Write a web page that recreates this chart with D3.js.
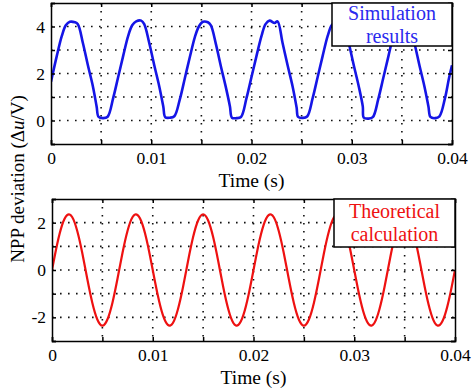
<!DOCTYPE html>
<html><head><meta charset="utf-8">
<script src="https://cdn.jsdelivr.net/npm/d3@7"></script>
<style>
body{margin:0;background:#fff}
svg{display:block}
svg text{font-family:'Liberation Serif','Times New Roman',Times,'DejaVu Serif',serif}
</style>
</head><body>
<svg id="chart" width="474" height="391" font-family="Liberation Serif, Times New Roman, serif"></svg>
<script>
// ---------- data ----------
const simTime = [
  0, 0.00058, 0.00108, 0.00148, 0.00188, 0.00238, 0.00268, 0.00318, 0.00368, 0.00418, 0.00455,
  0.00475, 0.0052, 0.00565, 0.0062, 0.0067, 0.0072, 0.0077, 0.0081, 0.0085, 0.009, 0.0093, 0.0098, 0.0103, 0.0108, 0.0112,
  0.0114, 0.01185, 0.0123, 0.01285, 0.01335, 0.01385, 0.01435, 0.01475, 0.01515, 0.01565, 0.01595, 0.01645, 0.01695, 0.01745, 0.01785,
  0.01805, 0.0185, 0.01895, 0.0195, 0.02, 0.0205, 0.021, 0.0214, 0.0218, 0.0223, 0.0226, 0.0231, 0.0236, 0.0241, 0.0245,
  0.02465, 0.0251, 0.02555, 0.0261, 0.0266, 0.0271, 0.0276, 0.028, 0.0284, 0.0289, 0.0292, 0.0297, 0.0302, 0.0307, 0.0311,
  0.0312, 0.03165, 0.0321, 0.03265, 0.03315, 0.03365, 0.03415, 0.03455, 0.03495, 0.03545, 0.03575, 0.03625, 0.03675, 0.03725, 0.03765,
  0.03785, 0.0383, 0.03875, 0.0393, 0.0397, 0.04
];
const simValue = [
  1.65, 2.75, 3.6, 4.05, 4.2, 4.18, 4.1, 3.3, 2.35, 1.45, 0.6,
  0.15, 0.1, 0.16, 0.95, 1.85, 2.75, 3.6, 4.05, 4.22, 4.25, 4.1, 3.3, 2.35, 1.45, 0.6,
  0.14, 0.12, 0.18, 0.9, 1.8, 2.7, 3.55, 4.0, 4.2, 4.18, 4.05, 3.25, 2.3, 1.4, 0.6,
  0.12, 0.1, 0.15, 0.95, 1.85, 2.75, 3.6, 4.1, 4.25, 4.15, 4.22, 3.3, 2.35, 1.45, 0.55,
  0.15, 0.11, 0.17, 0.95, 1.85, 2.75, 3.6, 4.05, 4.2, 4.2, 4.1, 3.3, 2.35, 1.45, 0.6,
  0.12, 0.08, 0.14, 0.92, 1.82, 2.72, 3.6, 4.05, 4.2, 4.22, 4.1, 3.3, 2.35, 1.45, 0.6,
  0.15, 0.1, 0.18, 0.95, 1.8, 2.35
];
const theoryTime = [
  0, 0.0005, 0.001, 0.0015, 0.002, 0.0025, 0.003, 0.0035, 0.004, 0.0045,
  0.005, 0.0055, 0.006, 0.0065, 0.007, 0.0075, 0.008, 0.0085, 0.009, 0.0095,
  0.01, 0.0105, 0.011, 0.0115, 0.012, 0.0125, 0.013, 0.0135, 0.014, 0.0145,
  0.015, 0.0155, 0.016, 0.0165, 0.017, 0.0175, 0.018, 0.0185, 0.019, 0.0195,
  0.02, 0.0205, 0.021, 0.0215, 0.022, 0.0225, 0.023, 0.0235, 0.024, 0.0245,
  0.025, 0.0255, 0.026, 0.0265, 0.027, 0.0275, 0.028, 0.0285, 0.029, 0.0295,
  0.03, 0.0305, 0.031, 0.0315, 0.032, 0.0325, 0.033, 0.0335, 0.034, 0.0345,
  0.035, 0.0355, 0.036, 0.0365, 0.037, 0.0375, 0.038, 0.0385, 0.039, 0.0395,
  0.04
];
const theoryValue = [
  0, 1.07, 1.90, 2.32, 2.24, 1.66, 0.73, -0.37, -1.38, -2.09,
  -2.35, -2.09, -1.38, -0.37, 0.73, 1.66, 2.24, 2.32, 1.90, 1.07,
  0, -1.07, -1.90, -2.32, -2.24, -1.66, -0.73, 0.37, 1.38, 2.09,
  2.35, 2.09, 1.38, 0.37, -0.73, -1.66, -2.24, -2.32, -1.90, -1.07,
  0, 1.07, 1.90, 2.32, 2.24, 1.66, 0.73, -0.37, -1.38, -2.09,
  -2.35, -2.09, -1.38, -0.37, 0.73, 1.66, 2.24, 2.32, 1.90, 1.07,
  0, -1.07, -1.90, -2.32, -2.24, -1.66, -0.73, 0.37, 1.38, 2.09,
  2.35, 2.09, 1.38, 0.37, -0.73, -1.66, -2.24, -2.32, -1.90, -1.07,
  0
];
const xGridTicks = [0, 0.005, 0.01, 0.015, 0.02, 0.025, 0.03, 0.035, 0.04];
const xLabelTicks = [0, 0.01, 0.02, 0.03, 0.04];
const xTickLabels = ["0", "0.01", "0.02", "0.03", "0.04"];
const simYDomain = [-1, 5];
const simYGrid = [-1, 0, 1, 2, 3, 4, 5];
const simYLabels = [0, 2, 4];
const theoryYDomain = [-3, 3];
const theoryYGrid = [-3, -2, -1, 0, 1, 2, 3];
const theoryYLabels = [-2, 0, 2];
const xTitle = "Time (s)";
const simLegend = ["Simulation", "results"];
const theoryLegend = ["Theoretical", "calculation"];

// ---------- drawing ----------
const svg = d3.select("#chart");
const FONT = "'Liberation Serif','Times New Roman',Times,'DejaVu Serif',serif";

function panel(o) {
  const g = svg.append("g");
  const x = d3.scaleLinear().domain([0, 0.04]).range([o.left, o.right]);
  const y = d3.scaleLinear().domain(o.yDomain).range([o.bottom, o.top]);
  const clipId = "clip" + o.id;
  svg.append("clipPath").attr("id", clipId).append("rect")
    .attr("x", o.left).attr("y", o.top)
    .attr("width", o.right - o.left).attr("height", o.bottom - o.top);

  // dotted grid
  const gridStyle = s => s.attr("stroke", "#111").attr("stroke-width", 1.6)
    .attr("stroke-dasharray", "1.6,6.4").attr("fill", "none");
  g.selectAll(".vg").data(xGridTicks.slice(1, -1)).join("line")
    .attr("x1", d => x(d)).attr("x2", d => x(d))
    .attr("y1", o.top).attr("y2", o.bottom).call(gridStyle);
  g.selectAll(".hg").data(o.yGrid.slice(1, -1)).join("line")
    .attr("x1", o.left).attr("x2", o.right)
    .attr("y1", d => y(d)).attr("y2", d => y(d)).call(gridStyle);

  // data line
  const pts = o.t.map((t, i) => [t, o.v[i]]);
  g.append("path").datum(pts)
    .attr("clip-path", `url(#${clipId})`)
    .attr("fill", "none").attr("stroke", o.color)
    .attr("stroke-width", o.lw).attr("stroke-linejoin", "round")
    .attr("d", d3.line().x(d => x(d[0])).y(d => y(d[1])).curve(o.curve));

  // axes (inward ticks on all four sides)
  const axB = d3.axisBottom(x).tickValues(xGridTicks).tickSize(-4).tickPadding(o.xPad)
    .tickFormat(d => { const i = xLabelTicks.findIndex(v => Math.abs(v - d) < 1e-9); return i >= 0 ? xTickLabels[i] : ""; });
  const axT = d3.axisTop(x).tickValues(xGridTicks).tickSize(-4).tickFormat("");
  const axL = d3.axisLeft(y).tickValues(o.yGrid).tickSize(-4).tickPadding(6)
    .tickFormat(d => o.yLabels.includes(d) ? String(d) : "");
  const axR = d3.axisRight(y).tickValues(o.yGrid).tickSize(-4).tickFormat("");
  const style = s => {
    s.attr("font-family", null).attr("font-size", null);
    s.selectAll("path,line").attr("stroke", "#000").attr("stroke-width", 1.5);
    s.selectAll("text").attr("fill", "#000").style("font-family", FONT).style("font-size", "17.5px");
  };
  g.append("g").attr("transform", `translate(0,${o.bottom})`).call(axB).call(style);
  g.append("g").attr("transform", `translate(0,${o.top})`).call(axT).call(style);
  g.append("g").attr("transform", `translate(${o.left},0)`).call(axL).call(style);
  g.append("g").attr("transform", `translate(${o.right},0)`).call(axR).call(style);

  // x title
  g.append("text").attr("x", (o.left + o.right) / 2).attr("y", o.titleY)
    .attr("text-anchor", "middle").style("font-family", FONT).style("font-size", "19.5px").text(xTitle);

  // legend box
  g.append("rect").attr("x", o.legX).attr("y", o.top)
    .attr("width", o.right - o.legX).attr("height", o.legBottom - o.top)
    .attr("fill", "#fff").attr("stroke", "#000").attr("stroke-width", 1.5);
  g.selectAll(".lt").data(o.legend).join("text")
    .attr("x", (o.legX + o.right) / 2).attr("y", (d, i) => o.legBase + i * 23)
    .attr("text-anchor", "middle").attr("fill", o.textColor)
    .style("font-family", FONT).style("font-size", "20px").text(d => d);
}

panel({id: 1, left: 51, right: 452, top: 3, bottom: 144, yDomain: simYDomain,
  yGrid: simYGrid, yLabels: simYLabels, t: simTime, v: simValue,
  color: "#1515e6", lw: 2.6, curve: d3.curveCatmullRom.alpha(0.5), xPad: 8,
  titleY: 187, legX: 332, legBottom: 46, legBase: 20, legend: simLegend, textColor: "#2a2aee"});

panel({id: 2, left: 52, right: 455, top: 199, bottom: 341, yDomain: theoryYDomain,
  yGrid: theoryYGrid, yLabels: theoryYLabels, t: theoryTime, v: theoryValue,
  color: "#ee1111", lw: 2.2, curve: d3.curveNatural, xPad: 8,
  titleY: 384, legX: 334, legBottom: 247, legBase: 218, legend: theoryLegend, textColor: "#ee1111"});

// shared y label
const yl = svg.append("text").attr("transform", "translate(24,179) rotate(-90)")
  .attr("text-anchor", "middle").style("font-family", FONT).style("font-size", "19px");
yl.append("tspan").text("NPP deviation (Δ");
yl.append("tspan").style("font-style", "italic").text("u");
yl.append("tspan").text("/V)");
</script>
</body></html>
